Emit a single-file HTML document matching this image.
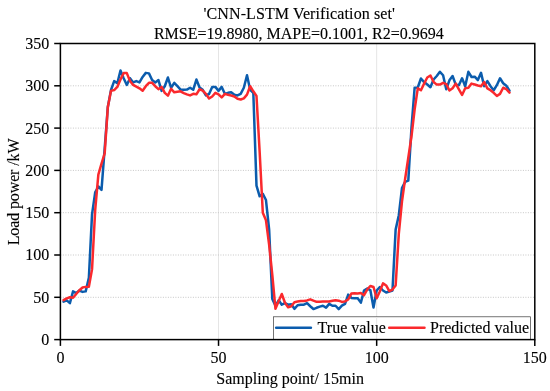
<!DOCTYPE html>
<html><head><meta charset="utf-8"><title>CNN-LSTM Verification set</title>
<style>
html,body{margin:0;padding:0;background:#fff;}
svg{display:block;}
text{font-family:"Liberation Serif","Times New Roman",serif;font-size:16px;fill:#000;stroke:#000;stroke-width:0.12px;}
.ax{stroke:#000;stroke-width:1.5;fill:none;}
.gh{stroke:#c6c6c6;stroke-width:1;stroke-dasharray:1 1.5;}
.gv{stroke:#e5e5e5;stroke-width:1;}
.b{stroke:#0b5cad;stroke-width:2.5;fill:none;stroke-linejoin:round;stroke-linecap:round;}
.r{stroke:#fa292d;stroke-width:2.5;fill:none;stroke-linejoin:round;stroke-linecap:round;}
</style></head>
<body>
<svg width="550" height="391" viewBox="0 0 550 391">
<rect x="0" y="0" width="550" height="391" fill="#fff"/>
<line x1="218.53" y1="43.50" x2="218.53" y2="339.60" class="gv"/>
<line x1="376.67" y1="43.50" x2="376.67" y2="339.60" class="gv"/>
<line x1="60.40" y1="297.30" x2="534.80" y2="297.30" class="gh"/>
<line x1="60.40" y1="255.00" x2="534.80" y2="255.00" class="gh"/>
<line x1="60.40" y1="212.70" x2="534.80" y2="212.70" class="gh"/>
<line x1="60.40" y1="170.40" x2="534.80" y2="170.40" class="gh"/>
<line x1="60.40" y1="128.10" x2="534.80" y2="128.10" class="gh"/>
<line x1="60.40" y1="85.80" x2="534.80" y2="85.80" class="gh"/>

<path class="b" d="M63.56,301.70 L66.73,300.35 L69.89,303.14 L73.05,291.38 L76.21,293.07 L79.38,290.53 L82.54,291.89 L85.70,291.38 L88.86,277.84 L92.03,214.39 L95.19,192.40 L98.35,186.47 L101.51,189.86 L104.68,148.40 L107.84,106.95 L111.00,90.03 L114.17,81.06 L117.33,83.26 L120.49,70.57 L123.65,78.19 L126.82,84.95 L129.98,78.19 L133.14,82.42 L136.30,81.06 L139.47,82.42 L142.63,76.92 L145.79,72.86 L148.95,73.36 L152.12,80.05 L155.28,82.42 L158.44,80.05 L161.61,90.88 L164.77,86.22 L167.93,77.51 L171.09,87.75 L174.26,82.84 L177.42,86.22 L180.58,89.61 L183.74,89.78 L186.91,89.61 L190.07,87.75 L193.23,89.78 L196.39,79.54 L199.56,87.49 L202.72,89.78 L205.88,95.44 L209.05,94.01 L212.21,86.90 L215.37,86.90 L218.53,90.88 L221.70,86.90 L224.86,93.84 L228.02,92.82 L231.18,92.31 L234.35,94.85 L237.51,95.44 L240.67,93.84 L243.83,87.75 L247.00,75.31 L250.16,89.78 L253.32,92.82 L256.49,185.63 L259.65,196.29 L262.81,193.83 L265.97,200.01 L269.14,229.62 L272.30,298.99 L275.46,305.76 L278.62,300.26 L281.79,304.74 L284.95,303.22 L288.11,304.74 L291.27,304.24 L294.44,308.81 L297.60,305.25 L300.76,304.74 L303.93,304.74 L307.09,303.22 L310.25,306.27 L313.41,309.06 L316.58,307.79 L319.74,306.61 L322.90,305.76 L326.06,307.62 L329.23,303.90 L332.39,305.76 L335.55,305.76 L338.71,309.06 L341.88,305.59 L345.04,303.81 L348.20,294.59 L351.37,297.89 L354.53,298.15 L357.69,298.23 L360.85,302.63 L364.02,290.53 L367.18,288.50 L370.34,290.02 L373.50,307.45 L376.67,290.53 L379.83,286.98 L382.99,290.53 L386.15,292.56 L389.32,291.55 L392.48,290.53 L395.64,229.62 L398.81,215.24 L401.97,188.17 L405.13,181.82 L408.29,180.55 L411.46,128.10 L414.62,87.75 L417.78,87.49 L420.94,78.52 L424.11,82.08 L427.27,84.45 L430.43,87.24 L433.59,79.54 L436.76,75.99 L439.92,71.84 L443.08,75.23 L446.25,89.27 L449.41,80.30 L452.57,75.99 L455.73,84.62 L458.90,85.21 L462.06,78.27 L465.22,86.22 L468.38,71.84 L471.55,77.00 L474.71,76.66 L477.87,80.05 L481.03,72.86 L484.20,86.22 L487.36,81.06 L490.52,86.22 L493.69,90.28 L496.85,85.21 L500.01,78.27 L503.17,83.26 L506.34,85.80 L509.50,90.62"/>
<path class="r" d="M63.56,300.18 L66.73,298.40 L69.89,297.30 L73.05,297.81 L76.21,293.92 L79.38,290.28 L82.54,287.57 L85.70,286.89 L88.86,286.73 L92.03,269.38 L95.19,210.16 L98.35,174.63 L101.51,163.63 L104.68,153.48 L107.84,106.95 L111.00,90.88 L114.17,90.03 L117.33,86.90 L120.49,79.54 L123.65,73.11 L126.82,73.11 L129.98,81.06 L133.14,84.95 L136.30,86.65 L139.47,88.34 L142.63,90.71 L145.79,86.22 L148.95,82.84 L152.12,82.84 L155.28,86.22 L158.44,89.18 L161.61,86.90 L164.77,92.82 L167.93,95.70 L171.09,88.76 L174.26,92.31 L177.42,91.72 L180.58,91.30 L183.74,93.08 L186.91,94.34 L190.07,95.44 L193.23,93.84 L196.39,94.34 L199.56,89.27 L202.72,90.62 L205.88,93.84 L209.05,98.49 L212.21,96.46 L215.37,92.82 L218.53,94.34 L221.70,97.47 L224.86,93.84 L228.02,94.85 L231.18,95.44 L234.35,96.46 L237.51,98.83 L240.67,99.51 L243.83,98.32 L247.00,94.68 L250.16,86.22 L253.32,91.30 L256.49,95.95 L259.65,151.79 L262.81,212.70 L265.97,220.31 L269.14,244.85 L272.30,274.80 L275.46,308.81 L278.62,301.36 L281.79,294.00 L284.95,302.71 L288.11,307.28 L291.27,306.27 L294.44,302.21 L297.60,301.53 L300.76,300.94 L303.93,300.94 L307.09,300.43 L310.25,299.33 L313.41,300.68 L316.58,301.87 L319.74,301.70 L322.90,301.53 L326.06,301.53 L329.23,301.53 L332.39,300.68 L335.55,300.18 L338.71,300.68 L341.88,301.95 L345.04,301.36 L348.20,299.50 L351.37,293.58 L354.53,293.24 L357.69,293.41 L360.85,293.07 L364.02,295.19 L367.18,289.52 L370.34,285.96 L373.50,286.98 L376.67,298.23 L379.83,291.55 L382.99,283.34 L386.15,285.46 L389.32,291.04 L392.48,289.52 L395.64,285.46 L398.81,233.85 L401.97,201.70 L405.13,178.86 L408.29,157.71 L411.46,136.56 L414.62,109.49 L417.78,88.34 L420.94,90.28 L424.11,83.60 L427.27,77.51 L430.43,75.48 L433.59,82.08 L436.76,84.62 L439.92,84.62 L443.08,82.84 L446.25,84.11 L449.41,90.54 L452.57,88.25 L455.73,83.60 L458.90,89.27 L462.06,94.94 L465.22,88.25 L468.38,87.75 L471.55,83.60 L474.71,84.45 L477.87,85.46 L481.03,86.22 L484.20,82.08 L487.36,88.34 L490.52,90.28 L493.69,92.82 L496.85,95.95 L500.01,93.84 L503.17,87.75 L506.34,89.18 L509.50,92.57"/>
<rect x="273.4" y="316.8" width="257.2" height="22.6" fill="#fff" stroke="#3a3a3a" stroke-width="0.7"/>
<line x1="376.67" y1="317.2" x2="376.67" y2="339" class="gv"/>
<line x1="276.15" y1="327.8" x2="310.95" y2="327.8" class="b"/>
<text x="317.6" y="332.8">True value</text>
<line x1="389.2" y1="327.7" x2="424.5" y2="327.7" class="r"/>
<text x="430" y="332.8">Predicted value</text>
<rect x="60.4" y="43.5" width="474.40" height="296.10" class="ax"/>
<line x1="60.40" y1="339.60" x2="60.40" y2="345.90" class="ax"/>
<line x1="218.53" y1="339.60" x2="218.53" y2="345.90" class="ax"/>
<line x1="376.67" y1="339.60" x2="376.67" y2="345.90" class="ax"/>
<line x1="534.80" y1="339.60" x2="534.80" y2="345.90" class="ax"/>
<line x1="54.20" y1="339.60" x2="60.40" y2="339.60" class="ax"/>
<line x1="54.20" y1="297.30" x2="60.40" y2="297.30" class="ax"/>
<line x1="54.20" y1="255.00" x2="60.40" y2="255.00" class="ax"/>
<line x1="54.20" y1="212.70" x2="60.40" y2="212.70" class="ax"/>
<line x1="54.20" y1="170.40" x2="60.40" y2="170.40" class="ax"/>
<line x1="54.20" y1="128.10" x2="60.40" y2="128.10" class="ax"/>
<line x1="54.20" y1="85.80" x2="60.40" y2="85.80" class="ax"/>
<line x1="54.20" y1="43.50" x2="60.40" y2="43.50" class="ax"/>

<text x="60.40" y="362.7" text-anchor="middle">0</text>
<text x="218.53" y="362.7" text-anchor="middle">50</text>
<text x="376.67" y="362.7" text-anchor="middle">100</text>
<text x="534.80" y="362.7" text-anchor="middle">150</text>
<text x="49.3" y="345.00" text-anchor="end">0</text>
<text x="49.3" y="302.70" text-anchor="end">50</text>
<text x="49.3" y="260.40" text-anchor="end">100</text>
<text x="49.3" y="218.10" text-anchor="end">150</text>
<text x="49.3" y="175.80" text-anchor="end">200</text>
<text x="49.3" y="133.50" text-anchor="end">250</text>
<text x="49.3" y="91.20" text-anchor="end">300</text>
<text x="49.3" y="48.90" text-anchor="end">350</text>

<text x="299.25" y="18.7" text-anchor="middle" textLength="191.4" lengthAdjust="spacing">'CNN-LSTM Verification set'</text>
<text x="298.8" y="38.6" text-anchor="middle">RMSE=19.8980, MAPE=0.1001, R2=0.9694</text>
<text x="290.1" y="384.2" text-anchor="middle">Sampling point/ 15min</text>
<text transform="translate(18.5,191.9) rotate(-90)" text-anchor="middle" textLength="106.8" lengthAdjust="spacing">Load power /kW</text>
</svg>
</body></html>
